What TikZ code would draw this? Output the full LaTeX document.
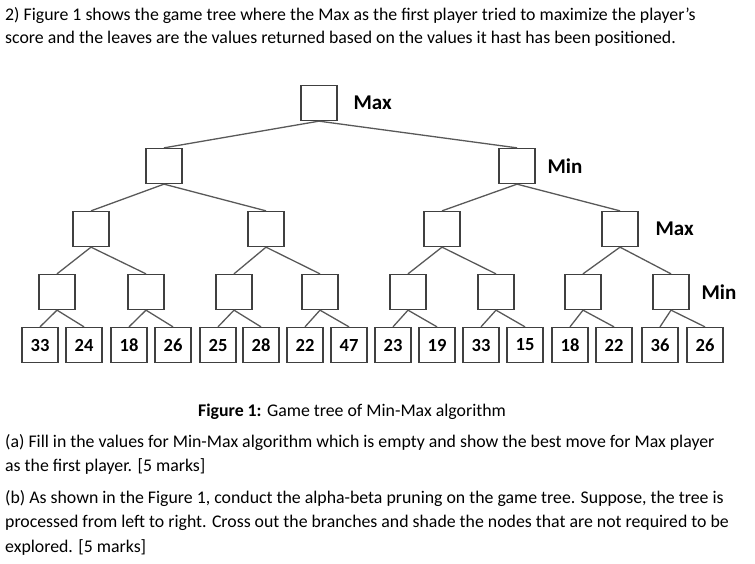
\documentclass[tikz,border=0pt]{standalone}
\usepackage{fontspec}
\setmainfont{Carlito}
\begin{document}
\begin{tikzpicture}[x=1pt,y=-1pt,
  box/.style={draw=black!75,line width=1.3pt,minimum width=36pt,minimum height=35pt,inner sep=0pt,fill=white},
  leaf/.style={box,font=\fontsize{18.5}{20}\selectfont\bfseries},
  edge/.style={draw=black!65,line width=1.3pt},
  lbl/.style={font=\fontsize{21}{24}\selectfont\bfseries,anchor=west},
  txt/.style={anchor=base west,inner sep=0pt,font=\fontsize{17.8}{22}\selectfont}]
\useasboundingbox (0,0) rectangle (755,563);
\node[box] (r) at (319,103) {};
\node[box] (a) at (164,166) {};
\node[box] (b) at (517,166) {};
\foreach \i/\x in {1/91,2/266,3/442,4/620}{\node[box] (c\i) at (\x,229) {};}
\foreach \i/\x in {1/57,2/146,3/234,4/320,5/408,6/496,7/583,8/671}{\node[box] (d\i) at (\x,292) {};}
\foreach \i/\x/\v in {1/40/33,2/84/24,3/129/18,4/173/26,5/218/25,6/261/28,7/305/22,8/349/47,9/393/23,10/437/19,11/481/33,12/525/15,13/570/18,14/614/22,15/660/36,16/705/26}{\node[leaf] (l\i) at (\x,345) {\v};}
\draw[edge] (r.south) -- (a.north) (r.south) -- (b.north);
\draw[edge] (a.south) -- (c1.north) (a.south) -- (c2.north) (b.south) -- (c3.north) (b.south) -- (c4.north);
\foreach \p/\k in {1/1,1/2,2/3,2/4,3/5,3/6,4/7,4/8}{\draw[edge] (c\p.south) -- (d\k.north);}
\foreach \p/\k in {1/1,1/2,2/3,2/4,3/5,3/6,4/7,4/8,5/9,5/10,6/11,6/12,7/13,7/14,8/15,8/16}{\draw[edge] (d\p.south) -- (l\k.north);}
\node[lbl] (mx1) at (350,103) {Max};
\node[lbl] (mn1) at (544,166) {Min};
\node[lbl] (mx2) at (652,229) {Max};
\node[lbl] (mn2) at (698,292) {Min};
\node[txt] (p1) at (5,20) {2) Figure 1 shows the game tree where the Max as the first player tried to maximize the player’s};
\node[txt] (p2) at (5,43) {score and the leaves are the values returned based on the values it hast has been positioned.};
\node[txt,anchor=base] (cap) at (352,416) {\textbf{Figure 1:} Game tree of Min-Max algorithm};
\node[txt] (qa1) at (5,447) {(a) Fill in the values for Min-Max algorithm which is empty and show the best move for Max player};
\node[txt] (qa2) at (5,471) {as the first player. [5 marks]};
\node[txt] (qb1) at (5,503) {(b) As shown in the Figure 1, conduct the alpha-beta pruning on the game tree. Suppose, the tree is};
\node[txt] (qb2) at (5,527) {processed from left to right. Cross out the branches and shade the nodes that are not required to be};
\node[txt] (qb3) at (5,552) {explored. [5 marks]};
\end{tikzpicture}
\end{document}
